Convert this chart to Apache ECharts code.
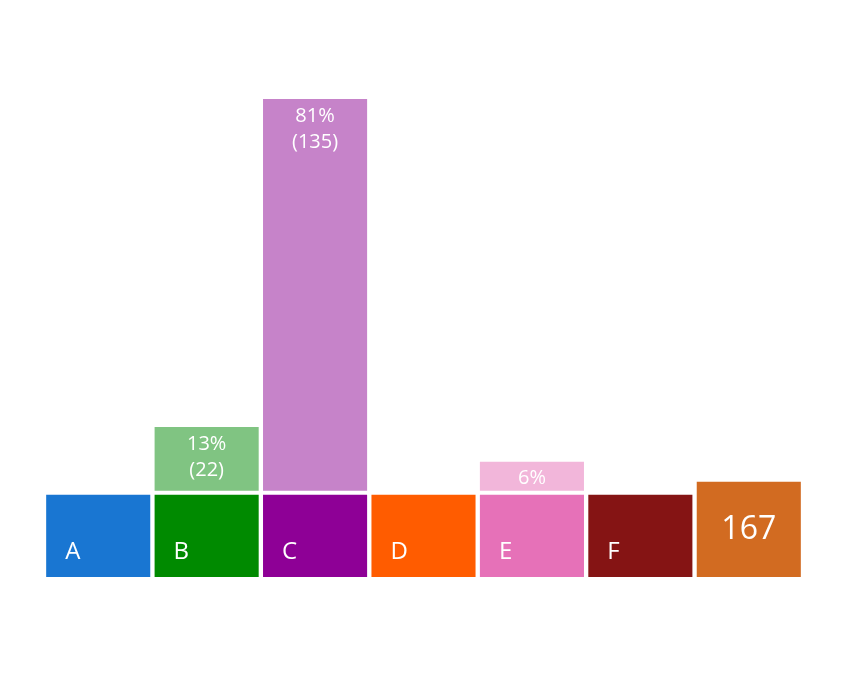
<!DOCTYPE html>
<html><head><meta charset="utf-8">
<script src="https://cdn.jsdelivr.net/npm/echarts@6/dist/echarts.min.js"></script>
<style>html,body{margin:0;background:#fff}#c{width:845px;height:684px}</style>
</head><body><div id="c"></div>
<script>
const categories = ['A','B','C','D','E','F','Total'];
const counts = [0, 22, 135, 0, 10, 0, null];
const percents = ['', '13%', '81%', '', '6%', '', ''];
const total = 167;
const baseColors = ['#1976d2','#008a00','#8e0096','#ff5c00','#e671b8','#851414','#d26b21'];
const topColors = ['#8cbbe9','#80c482','#c683c9','#ffad80','#f2b6da','#c28989','#e8b590'];
const BASE = 28.3, GAP = 1.4, TOTALH = 32.8;
const font = '"Open Sans", "Noto Sans", sans-serif';
const chart = echarts.init(document.getElementById('c'));
chart.setOption({
  animation:false,
  grid:{left:44,right:42,top:99,bottom:107},
  xAxis:{type:'category',data:categories,show:false},
  yAxis:{type:'value',min:0,max:BASE+GAP+135,show:false},
  series:[
    {type:'bar',stack:'s',barCategoryGap:'4%',
     data:categories.map((c,i)=>({value:i===6?TOTALH:BASE,itemStyle:{color:baseColors[i]},
       label:i===6?{show:true,position:'inside',formatter:String(total),fontSize:32,color:'#fff',fontFamily:font}
                  :{show:true,position:'insideBottomLeft',offset:[14,-8],formatter:c,fontSize:24,color:'#fff',fontFamily:font}}))},
    {type:'bar',stack:'s',data:categories.map((c,i)=>i===6?null:GAP),itemStyle:{color:'transparent'}},
    {type:'bar',stack:'s',
     data:counts.map((v,i)=>v?{value:v,itemStyle:{color:topColors[i]},
       label:{show:true,position:'insideTop',distance:4,lineHeight:26,fontSize:20,color:'#fff',fontFamily:font,
         formatter:v>=20?percents[i]+'\n('+v+')':percents[i]}}:null)}
  ]
});
</script></body></html>
